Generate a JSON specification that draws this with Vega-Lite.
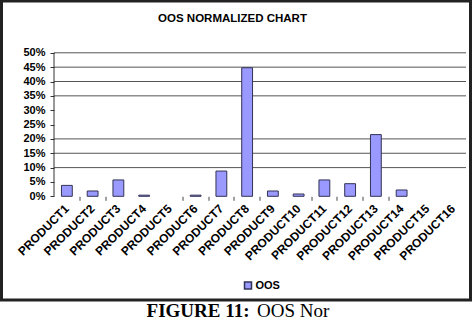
{
  "$schema": "https://vega.github.io/schema/vega-lite/v6.json",
  "width": 469,
  "height": 299,
  "autosize": {"type": "none"},
  "padding": {"left": 1.5, "top": 1, "right": 3.5, "bottom": 21},
  "background": "white",
  "title": {"text": "OOS NORMALIZED CHART", "orient": "top", "anchor": "middle", "offset": -32, "baseline": "alphabetic", "font": "Liberation Sans", "fontSize": 11.5, "fontWeight": "bold", "color": "#000", "dx": -3.5},
  "datasets": {
    "oos": [
      {"product": "PRODUCT1", "oos": 0.038},
      {"product": "PRODUCT2", "oos": 0.0185},
      {"product": "PRODUCT3", "oos": 0.057},
      {"product": "PRODUCT4", "oos": 0.004},
      {"product": "PRODUCT5", "oos": 0},
      {"product": "PRODUCT6", "oos": 0.004},
      {"product": "PRODUCT7", "oos": 0.088},
      {"product": "PRODUCT8", "oos": 0.448},
      {"product": "PRODUCT9", "oos": 0.0185},
      {"product": "PRODUCT10", "oos": 0.008},
      {"product": "PRODUCT11", "oos": 0.057},
      {"product": "PRODUCT12", "oos": 0.044},
      {"product": "PRODUCT13", "oos": 0.215},
      {"product": "PRODUCT14", "oos": 0.022},
      {"product": "PRODUCT15", "oos": 0},
      {"product": "PRODUCT16", "oos": 0}
    ],
    "grid": [{"v": 0.1}, {"v": 0.15}, {"v": 0.2}, {"v": 0.35}, {"v": 0.4}, {"v": 0.45}, {"v": 0.5}]
  },
  "layer": [
    {
      "data": {"name": "grid"},
      "mark": {"type": "rule", "color": "#555", "strokeWidth": 1},
      "encoding": {
        "y": {"field": "v", "type": "quantitative", "scale": {"domain": [-0.3613, 0.6805], "nice": false, "zero": false}, "axis": null},
        "x": {
          "datum": "PRODUCT1", "type": "nominal", "bandPosition": 0,
          "scale": {"type": "band", "domain": ["PRODUCT1","PRODUCT2","PRODUCT3","PRODUCT4","PRODUCT5","PRODUCT6","PRODUCT7","PRODUCT8","PRODUCT9","PRODUCT10","PRODUCT11","PRODUCT12","PRODUCT13","PRODUCT14","PRODUCT15","PRODUCT16"], "paddingInner": 0, "paddingOuter": 0, "range": [52.5, 464.5]},
          "axis": {"orient": "bottom", "offset": -103.7, "bandPosition": 0, "values": ["PRODUCT2","PRODUCT3","PRODUCT6","PRODUCT7","PRODUCT8","PRODUCT9","PRODUCT11","PRODUCT12","PRODUCT13","PRODUCT14"], "labels": false, "domain": false, "grid": false, "ticks": true, "tickSize": 4, "tickColor": "#444", "tickWidth": 1, "title": "FIGURE 11:", "titleFont": "Liberation Serif", "titleFontSize": 19, "titleFontWeight": "bold", "titleColor": "#000", "titleX": 247.5, "titleY": 120.5, "titleAlign": "right", "titleBaseline": "alphabetic"}
        },
        "x2": {"datum": "PRODUCT16", "bandPosition": 1}
      }
    },
    {
      "data": {"values": [{}]},
      "mark": {"type": "rule", "color": "#333", "strokeWidth": 1},
      "encoding": {
        "x": {"datum": "PRODUCT1", "type": "nominal", "bandPosition": 0,
          "scale": {"type": "band", "domain": ["PRODUCT1","PRODUCT2","PRODUCT3","PRODUCT4","PRODUCT5","PRODUCT6","PRODUCT7","PRODUCT8","PRODUCT9","PRODUCT10","PRODUCT11","PRODUCT12","PRODUCT13","PRODUCT14","PRODUCT15","PRODUCT16"], "paddingInner": 0, "paddingOuter": 0, "range": [52.5, 464.5]},
          "axis": null},
        "y": {"datum": 0, "type": "quantitative", "scale": {"domain": [-0.3613, 0.6805], "nice": false, "zero": false}, "axis": null},
        "y2": {"datum": 0.5}
      }
    },
    {
      "data": {"name": "oos"},
      "mark": {"type": "bar", "width": {"band": 0.42}, "stroke": "#333355", "strokeWidth": 1},
      "encoding": {
        "x": {"field": "product", "type": "nominal", "sort": null,
          "scale": {"type": "band", "domain": ["PRODUCT1","PRODUCT2","PRODUCT3","PRODUCT4","PRODUCT5","PRODUCT6","PRODUCT7","PRODUCT8","PRODUCT9","PRODUCT10","PRODUCT11","PRODUCT12","PRODUCT13","PRODUCT14","PRODUCT15","PRODUCT16"], "paddingInner": 0, "paddingOuter": 0, "range": [52.5, 464.5]},
          "axis": {"orient": "bottom", "offset": -103.7, "ticks": false, "domain": false, "grid": false, "labelAngle": -45, "labelAlign": "right", "labelBaseline": "middle", "labelPadding": 10, "labelOverlap": false, "labelFont": "Liberation Sans", "labelFontSize": 12, "labelFontWeight": "bold", "labelColor": "#000", "title": "OOS Nor", "titleFont": "Liberation Serif", "titleFontSize": 19, "titleFontWeight": "normal", "titleColor": "#000", "titleX": 255, "titleY": 120.5, "titleAlign": "left", "titleBaseline": "alphabetic"}},
        "y": {"field": "oos", "type": "quantitative", "scale": {"domain": [-0.3613, 0.6805], "nice": false, "zero": false},
          "axis": {"orient": "right", "offset": -416.5, "values": [0, 0.05, 0.1, 0.15, 0.2, 0.25, 0.3, 0.35, 0.4, 0.45, 0.5], "format": ".0%", "domain": false, "grid": false, "ticks": true, "tickSize": -4, "tickColor": "#333", "labelPadding": -5, "labelAlign": "right", "labelOverlap": false, "labelFont": "Liberation Sans", "labelFontSize": 11, "labelFontWeight": "bold", "labelColor": "#000", "title": null}},
        "y2": {"datum": 0},
        "strokeOpacity": {"condition": {"test": "datum.oos > 0", "value": 1}, "value": 0},
        "color": {"datum": "OOS", "type": "nominal", "scale": {"range": ["#9999ff"]},
          "legend": {"orient": "none", "legendX": 241, "legendY": 279, "title": null, "symbolType": "square", "symbolSize": 49, "labelFont": "Liberation Sans", "labelFontSize": 11, "labelFontWeight": "bold", "labelColor": "#000", "padding": 0, "labelOffset": 2}}
      }
    }
  ],
  "resolve": {"axis": {"x": "independent", "y": "independent"}},
  "config": {"view": {"stroke": "#222", "strokeWidth": 3}}
}
